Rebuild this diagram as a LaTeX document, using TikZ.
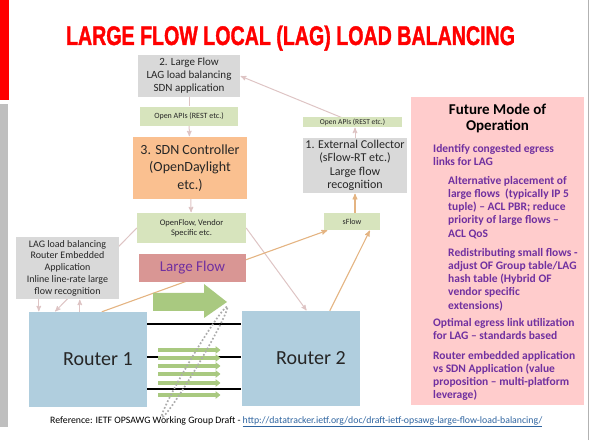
\documentclass[tikz,border=0pt]{standalone}
\usepackage{fontspec}
\setmainfont{Carlito}
\newfontfamily\titlefont[BoldFeatures={FakeBold=1.6}]{Liberation Sans}
\usetikzlibrary{arrows,arrows.meta,backgrounds}

\definecolor{boxgrey}{RGB}{217,217,217}
\definecolor{boxgreen}{RGB}{215,228,189}
\definecolor{boxorange}{RGB}{250,192,144}
\definecolor{boxrose}{RGB}{217,150,148}
\definecolor{routerblue}{RGB}{176,206,222}
\definecolor{fmopink}{RGB}{255,204,204}
\definecolor{flowgreen}{RGB}{169,201,128}
\definecolor{linkpink}{RGB}{222,196,196}
\definecolor{linktan}{RGB}{228,180,130}
\definecolor{textpurple}{RGB}{112,48,160}
\definecolor{urlblue}{RGB}{46,100,160}

\begin{document}
\begin{tikzpicture}[x=1pt,y=1pt,>=stealth',shorten >=0.5pt]
  \tikzset{box/.style={rectangle,inner sep=0pt,align=center,text=black!85},
    greybox/.style={box,fill=boxgrey},
    greenbox/.style={box,fill=boxgreen},
    router/.style={box,fill=routerblue,minimum width=118pt,minimum height=95pt,font=\fontsize{20}{24}\selectfont},
    pinklink/.style={draw=linkpink,line width=1pt},
    tanlink/.style={draw=linktan,line width=1.1pt},
    fmotext/.style={anchor=north west,inner sep=0pt,align=left,text=textpurple,font=\fontsize{11.5}{13.2}\selectfont\bfseries}}
  \useasboundingbox (0,0) rectangle (590,440);
  % slide frame
  \fill[red] (0,340) rectangle (9,440);
  \fill[gray!50] (0,13) rectangle (8,336);
  \draw[gray!60,line width=0.8pt] (588,0) -- (588,440);
  \node[anchor=base,text=red] (title) at (290.5,395) {\resizebox{449pt}{19.5pt}{\titlefont\bfseries LARGE FLOW LOCAL (LAG) LOAD BALANCING}};
  % boxes
  \node[greybox,minimum width=102pt,minimum height=42pt,font=\fontsize{11}{13}\selectfont] (app) at (189,364) {2. Large Flow\\LAG load balancing\\SDN application};
  \node[greenbox,minimum width=98pt,minimum height=19pt,font=\fontsize{8}{9}\selectfont] (api1) at (189,323.5) {Open APIs (REST etc.)};
  \node[box,fill=boxorange,minimum width=114pt,minimum height=62pt,font=\fontsize{14}{17.5}\selectfont] (ctrl) at (190,272) {3. SDN Controller\\(OpenDaylight\\etc.)};
  \node[greenbox,minimum width=109pt,minimum height=30pt,font=\fontsize{8.5}{10}\selectfont] (of) at (191.5,212) {OpenFlow, Vendor\\Specific etc.};
  \node[box,fill=boxrose,minimum width=107pt,minimum height=28pt,text=textpurple,font=\fontsize{15}{18}\selectfont] (lf) at (192.5,172) {Large Flow};
  \node[greybox,minimum width=103pt,minimum height=62pt,font=\fontsize{10}{11.7}\selectfont] (lag) at (67.5,172) {LAG load balancing\\Router Embedded\\Application\\Inline line-rate large\\flow recognition};
  \node[router] (r1) at (88,80.5) {\hspace*{20pt}Router 1};
  \node[router] (r2) at (301,81.5) {\hspace*{20pt}Router 2};
  \node[greybox,minimum width=104pt,minimum height=55pt,font=\fontsize{12}{13.3}\selectfont] (coll) at (355,274.5) {1. External Collector\\(sFlow-RT etc.)\\Large flow\\recognition};
  \node[greenbox,minimum width=99pt,minimum height=10pt,font=\fontsize{7.5}{8}\selectfont] (api2) at (352.5,318) {Open APIs (REST etc.)};
  \node[greenbox,minimum width=56pt,minimum height=17pt,font=\fontsize{8}{9}\selectfont] (sflow) at (352,218.5) {sFlow};
  % future mode of operation
  \node[box,fill=fmopink,minimum width=173pt,minimum height=308pt] (fmo) at (497.5,189) {};
  \node[anchor=north,inner sep=0pt,align=center,font=\fontsize{15}{15.5}\selectfont\bfseries] (fmotitle) at (497.5,336) {Future Mode of\\Operation};
  \node[fmotext] (item1) at (433,296) {Identify congested egress\\links for LAG};
  \node[fmotext] (item2) at (448,264) {Alternative placement of\\large flows\ \ (typically IP 5\\tuple) -- ACL PBR; reduce\\priority of large flows --\\ACL QoS};
  \node[fmotext] (item3) at (448,192) {Redistributing small flows -\\adjust OF Group table/LAG\\hash table (Hybrid OF\\vendor specific\\extensions)};
  \node[fmotext] (item4) at (433,122) {Optimal egress link utilization\\for LAG -- standards based};
  \node[fmotext] (item5) at (433,89) {Router embedded application\\vs SDN Application (value\\proposition -- multi-platform\\leverage)};
  % links between the routers
  \foreach \dy in {35.5,2.5,-29.5}
    \draw[line width=1.6pt] ([yshift=\dy pt]r1.east) -- ([yshift=\dy pt]r1.east -| r2.west);
  \fill[flowgreen] (153,147) -- (204,147) -- (204,156) -- (227,138) -- (204,122) -- (204,129) -- (153,129) -- cycle;
  \foreach \y in {90,82,74,66,57,45}
    \draw[flowgreen,line width=3.5pt,-{Triangle[length=5pt,width=7.5pt]}] (158,\y) -- (221,\y);
  \draw[gray!65,dotted,line width=1.7pt,rotate around={59.4:(194.5,78)}] (194.5,78) ellipse [x radius=64pt,y radius=4.5pt];
  % connectors
  \begin{scope}[on background layer]
    \draw[pinklink] (app) -- (api1);
    \draw[pinklink,->] (api1) -- (ctrl);
    \draw[pinklink,->] (ctrl) -- (of);
    \draw[pinklink,->] (of.west) -- ([xshift=26pt]r1.north west);
    \draw[pinklink,->] ([xshift=23pt]lag.south west) -- ([xshift=10pt]r1.north west);
    \draw[pinklink,->] ([xshift=51pt]r1.north west) -- ([xshift=64pt]lag.south west);
    \draw[pinklink,->] (of.east) -- ([xshift=65pt]r2.north west);
    \draw[tanlink,->] ([xshift=73pt]r1.north west) -- ([xshift=4pt]sflow.south west);
    \draw[tanlink,->] ([xshift=88pt]r2.north west) -- ([xshift=18pt]sflow.south);
    \draw[tanlink,->] (sflow.north -| coll.south) -- (coll.south);
    \draw[pinklink,->] (coll.north) -- (coll.north |- api2.south);
    \draw[pinklink,->] (api2.center) -- (app.east);
  \end{scope}
  \node[anchor=west,inner sep=0pt,font=\fontsize{9.8}{11}\selectfont] (ref) at (50,18) {Reference: IETF OPSAWG Working Group Draft - \textcolor{urlblue}{\underline{http://datatracker.ietf.org/doc/draft-ietf-opsawg-large-flow-load-balancing/}}};
\end{tikzpicture}
\end{document}
